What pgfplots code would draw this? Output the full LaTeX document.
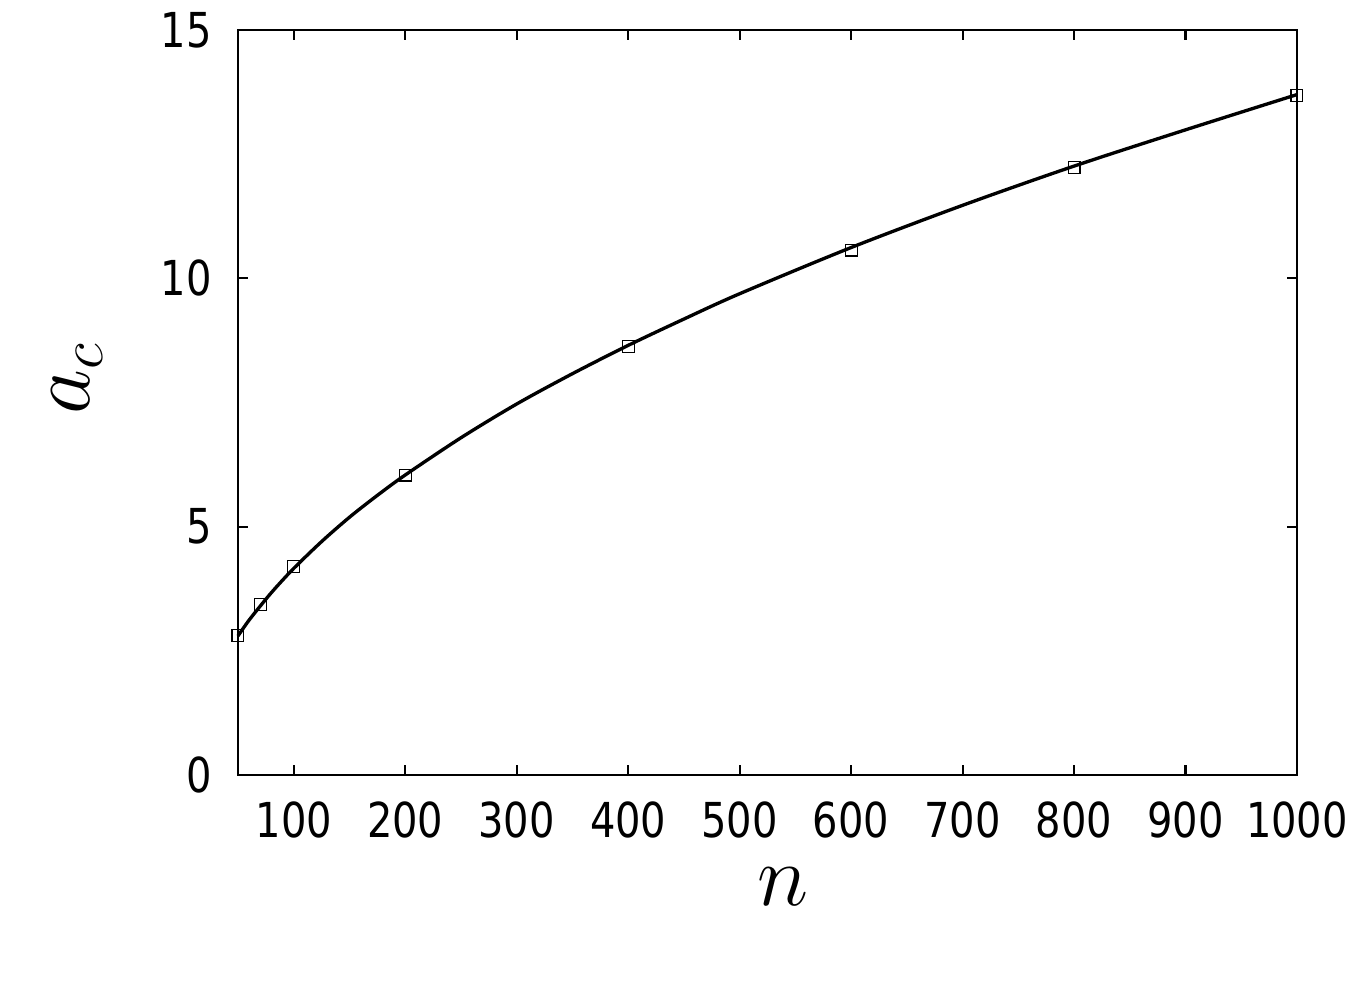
\documentclass[border=0pt]{standalone}
\usepackage{pgfplots}
\pgfplotsset{compat=1.18}
\usepackage{fontspec}
\newfontfamily\tickfont[FakeStretch=0.83]{DejaVu Sans}
\begin{document}
\begin{tikzpicture}
\path[use as bounding box] (-2.38,-2.14) rectangle (11.12,7.75);
% data points read from the markers
\begin{axis}[
    at={(0,0)}, anchor=south west,
    width=10.59cm, height=7.45cm,
    scale only axis,
    xmin=50, xmax=1000,
    ymin=0, ymax=15,
    xtick={100,200,...,1000},
    ytick={0,5,10,15},
    minor tick num=0,
    tick align=inside,
    major tick length=0.1cm,
    axis line style={line width=0.6pt},
    every tick/.style={line width=0.6pt, black},
    /pgf/number format/assume math mode=true,
    /pgf/number format/1000 sep={},
    tick label style={font=\tickfont\fontsize{13.7}{16}\selectfont},
    xticklabel style={yshift=-4pt},
    yticklabel style={xshift=-4pt},
    xlabel={$n$},
    ylabel={$a_c$},
    label style={font=\fontsize{26}{30}\selectfont},
    xlabel style={at={(axis description cs:0.515,-0.150)}, anchor=center},
    ylabel style={at={(axis description cs:-0.152,0.533)}, anchor=center},
    clip=false,
]
\addplot[black, line width=0.95pt, smooth, no markers] coordinates {
    (50,2.80) (60,3.12) (75,3.54) (85,3.80) (100,4.16) (125,4.70) (150,5.19)
    (175,5.63) (200,6.04) (250,6.79) (300,7.47) (350,8.08) (400,8.65) (450,9.18)
    (500,9.69) (600,10.62) (700,11.47) (800,12.26) (900,12.99) (1000,13.70)
};
\addplot[black, only marks, mark=square, mark size=1.7pt, mark options={line width=0.3pt}] coordinates {
    (50,2.80) (70,3.44) (100,4.19) (200,6.04) (400,8.62) (600,10.57) (800,12.24) (1000,13.69)
};
\end{axis}
\end{tikzpicture}
\end{document}
